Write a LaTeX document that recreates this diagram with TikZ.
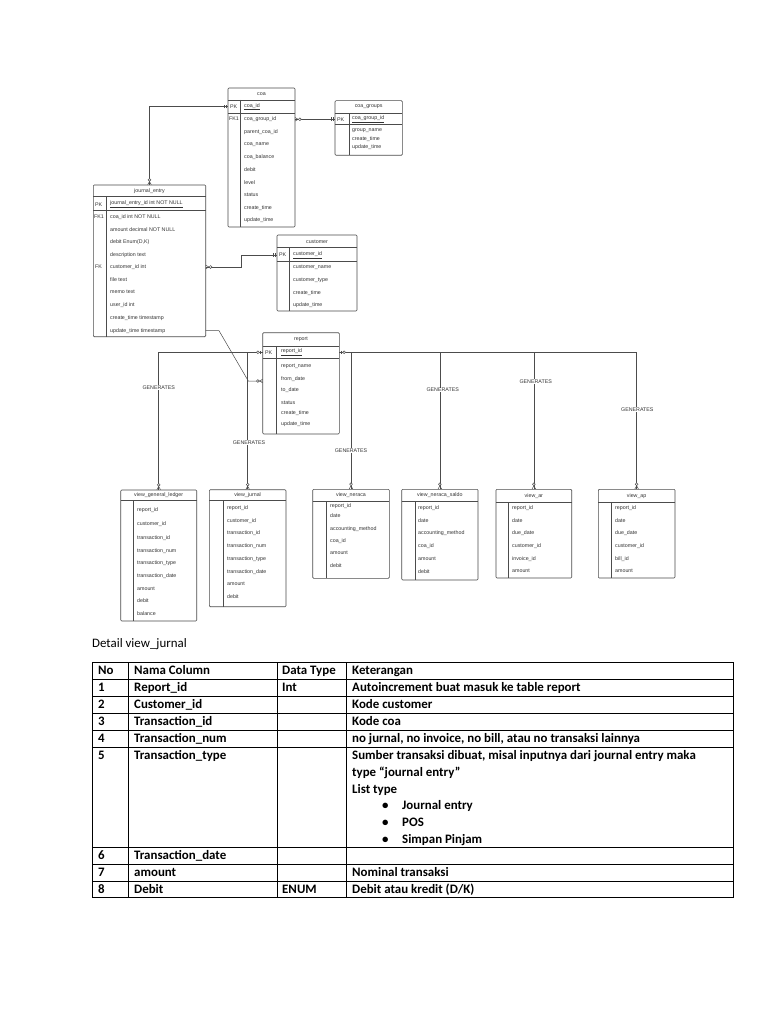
\documentclass[tikz,border=0pt]{standalone}
\usepackage{fontspec}
\setmainfont{Carlito}
\newfontfamily\erf{Liberation Sans}
\usetikzlibrary{fit}
\tikzset{
  erline/.style={draw=black!70, line width=0.5pt},
  tabbox/.style={draw=black!70, line width=0.6pt, rounded corners=1pt, inner sep=0pt},
  er/.style={font=\erf\fontsize{5.3}{6}\selectfont, inner sep=0pt, text=black!80},
  erw/.style={er, anchor=west},
  gen/.style={er, fill=white, inner sep=0.6pt},
  cell/.style={font=\bfseries\fontsize{12.9}{14}\selectfont, anchor=base west, inner sep=0pt},
  tline/.style={draw=black, line width=0.8pt},
}
\newcommand\ertab[8]{%
  \node[tabbox, fit={(#2,#3)(#4,#5)}] (#1) {};
  \node[er] at ({(#2+#4)/2},{(#3+#7)/2}) {#6};
  \draw[erline] (#2,#7) -- (#4,#7);
  \draw[erline] (#8,#7) -- (#8,#5);
}
% markers: #1 point, #2 outward angle
\newcommand\mkone[2]{\begin{scope}[shift={#1},rotate=#2]
  \draw[erline] (2.2,-1.8) -- (2.2,1.8); \draw[erline] (3.6,-1.8) -- (3.6,1.8);\end{scope}}
\newcommand\mkzmany[2]{\begin{scope}[shift={#1},rotate=#2]
  \draw[erline] (0,-1.8) -- (3.2,0) -- (0,1.8);
  \draw[erline, fill=white] (4.8,0) circle (1.4);\end{scope}}
\newcommand\mkzone[2]{\begin{scope}[shift={#1},rotate=#2]
  \draw[erline] (2.4,-1.8) -- (2.4,1.8);
  \draw[erline, fill=white] (4.8,0) circle (1.4);\end{scope}}
\begin{document}
\begin{tikzpicture}[x=1pt,y=-1pt]
\useasboundingbox[fill=white] (0,0) rectangle (768,1024);

% ---------------- coa
\ertab{coa}{228}{88}{295}{227}{coa}{100}{240.5}
\draw[erline] (228,113.3) -- (295,113.3);
\node[erw] at (230,106.7) {PK};
\node[erw] at (244,106.7) {\underline{coa\_id}};
\node[erw] at (229,119) {FK1};
\foreach \y/\t in {119/coa\_group\_id,132/parent\_coa\_id,145/coa\_name,157.5/coa\_balance,170/debit,182.5/level,195/status,208/create\_time,220.5/update\_time}
  \node[erw] at (244,\y) {\t};

% ---------------- coa_groups
\ertab{coag}{335}{100.7}{402.3}{155.3}{coa\_groups}{113.3}{349.3}
\draw[erline] (335,124.5) -- (402.3,124.5);
\node[erw] at (337,119.5) {PK};
\node[erw] at (352,119.5) {\underline{coa\_group\_id}};
\foreach \y/\t in {130.5/group\_name,138.7/create\_time,147/update\_time}
  \node[erw] at (352,\y) {\t};

% ---------------- journal_entry
\ertab{je}{93.3}{185}{205.7}{336.7}{journal\_entry}{196.7}{106}
\draw[erline] (93.3,210.7) -- (205.7,210.7);
\node[erw] at (95,204.3) {PK};
\node[erw] at (110,204.3) {\underline{journal\_entry\_id int NOT NULL}};
\node[erw] at (94,217) {FK1};
\node[erw] at (95,267) {FK};
\foreach \y/\t in {217/coa\_id int NOT NULL,229.3/amount decimal NOT NULL,242/debit Enum(D{,}K),254.7/description text,267/customer\_id int,279.7/file text,292/memo text,305/user\_id int,318/create\_time timestamp,330.7/update\_time timestamp}
  \node[erw] at (110,\y) {\t};

% ---------------- customer
\ertab{cust}{277}{235}{357}{311}{customer}{247.7}{289.3}
\draw[erline] (277,261) -- (357,261);
\node[erw] at (279,255) {PK};
\node[erw] at (293,255) {\underline{customer\_id}};
\foreach \y/\t in {267.5/customer\_name,280/customer\_type,292.7/create\_time,305/update\_time}
  \node[erw] at (293,\y) {\t};

% ---------------- report
\ertab{rep}{262.7}{332.7}{339.3}{434}{report}{346}{276.7}
\draw[erline] (262.7,358.3) -- (339.3,358.3);
\node[erw] at (265,352.3) {PK};
\node[erw] at (281,352.3) {\underline{report\_id}};
\foreach \y/\t in {366.7/report\_name,379/from\_date,390/to\_date,402.7/status,412.7/create\_time,423.7/update\_time}
  \node[erw] at (281,\y) {\t};

% ---------------- views
\ertab{vgl}{120.7}{490}{196.7}{621}{view\_general\_ledger}{500.7}{133.3}
\foreach \y/\t in {510/report\_id,524/customer\_id,537.7/transaction\_id,550.7/transaction\_num,563/transaction\_type,576/transaction\_date,588.7/amount,601/debit,614/balance}
  \node[erw] at (137,\y) {\t};
\ertab{vj}{209.3}{489.7}{286}{606.7}{view\_jurnal}{500.7}{223.3}
\foreach \y/\t in {508.3/report\_id,520.7/customer\_id,533.3/transaction\_id,546.3/transaction\_num,559/transaction\_type,571.7/transaction\_date,584.3/amount,597/debit}
  \node[erw] at (227,\y) {\t};
\ertab{vn}{312.7}{489.3}{389.3}{578.3}{view\_neraca}{501.3}{326.7}
\foreach \y/\t in {505.7/report\_id,516/date,528.7/accounting\_method,541.3/coa\_id,553.3/amount,566/debit}
  \node[erw] at (330,\y) {\t};
\ertab{vns}{401.7}{489.3}{478}{580}{view\_neraca\_saldo}{501.3}{415}
\foreach \y/\t in {508.3/report\_id,520.7/date,533.3/accounting\_method,546/coa\_id,559/amount,571.7/debit}
  \node[erw] at (418,\y) {\t};
\ertab{var}{496}{489.3}{571.7}{578}{view\_ar}{502}{508}
\foreach \y/\t in {508.3/report\_id,520.7/date,533.3/due\_date,546/customer\_id,558.7/invoice\_id,571/amount}
  \node[erw] at (512,\y) {\t};
\ertab{vap}{598.3}{489.3}{675}{578}{view\_ap}{502}{611.7}
\foreach \y/\t in {508.3/report\_id,520.7/date,533.3/due\_date,546/customer\_id,558.7/bill\_id,571/amount}
  \node[erw] at (615,\y) {\t};

% ---------------- connector anchors
\coordinate (coaPK) at (228,106.7);
\coordinate (coaFK) at (295,119.3);
\coordinate (cgPK) at (335,119.3);
\coordinate (jeCust) at (205.7,267);
\coordinate (custPK) at (277,255);
\coordinate (jeUpd) at (205.7,330.7);
\coordinate (repJE) at (262.7,381);
\coordinate (rpkW) at (262.7,352.3);
\coordinate (rpkE) at (339.3,352.3);

% ---------------- connectors
\draw[erline] (je.north) |- (coaPK);
\draw[erline] (coaFK) -- (cgPK);
\draw[erline] (jeCust) -- ++(36,0) |- (custPK);
\draw[erline] (jeUpd) -- ++(13.3,0) -- (248.3,381) -- (repJE);
\draw[erline] (rpkW) -| (vgl.north);
\draw[erline] (rpkW) -| (vj.north);
\draw[erline] (rpkE) -| (vn.north);
\draw[erline] (rpkE) -| (vns.north);
\draw[erline] (rpkE) -| (var.north);
\draw[erline] (rpkE) -| (vap.north);

% ---------------- markers
\mkone{(coaPK)}{180}
\mkzmany{(je.north)}{90}
\mkzmany{(coaFK)}{0}
\mkone{(cgPK)}{180}
\mkzmany{(jeCust)}{0}
\mkone{(custPK)}{180}
\mkzmany{(repJE)}{180}
\mkzone{(rpkW)}{180}
\mkzone{(rpkE)}{0}
\foreach \v in {vgl,vj,vn,vns,var,vap} {\mkzmany{(\v.north)}{90}}

% ---------------- GENERATES labels
\node[gen] at (158.7,387.7) {GENERATES};
\node[gen] at (249,442.3) {GENERATES};
\node[gen] at (351,450.7) {GENERATES};
\node[gen] at (442.7,390) {GENERATES};
\node[gen] at (535.7,381.7) {GENERATES};
\node[gen] at (637.3,409.3) {GENERATES};

% ---------------- detail table
\node[anchor=base west, inner sep=0pt, font=\fontsize{12.9}{14}\selectfont] (dtitle) at (92,647.5) {Detail view\_jurnal};
\draw[tline] (92.5,662) rectangle (733,897);
\foreach \y in {679,696,713,730,747,847,864,881}
  \draw[tline] (92.5,\y) -- (733,\y);
\foreach \x in {128.5,277,346}
  \draw[tline] (\x,662) -- (\x,897);
% header
\node[cell] at (98,674.5) {No};
\node[cell] at (134,674.5) {Nama Column};
\node[cell] at (282,674.5) {Data Type};
\node[cell] at (352,674.5) {Keterangan};
% rows
\foreach \y/\n/\c in {691.5/1/Report\_id,708.5/2/Customer\_id,725.5/3/Transaction\_id,742.5/4/Transaction\_num,759.5/5/Transaction\_type,859.5/6/Transaction\_date,876.5/7/amount,893/8/Debit}
  {\node[cell] at (98,\y) {\n}; \node[cell] at (134,\y) {\c};}
\node[cell] at (282,691.5) {Int};
\node[cell] at (282,893) {ENUM};
\node[cell] at (352,691.5) {Autoincrement buat masuk ke table report};
\node[cell] at (352,708.5) {Kode customer};
\node[cell] at (352,725.5) {Kode coa};
\node[cell] at (352,742.5) {no jurnal, no invoice, no bill, atau no transaksi lainnya};
\node[cell] at (352,759.5) {Sumber transaksi dibuat, misal inputnya dari journal entry maka};
\node[cell] at (352,776) {type “journal entry”};
\node[cell] at (352,793) {List type};
\foreach \y/\t in {809.5/Journal entry,826/POS,843/Simpan Pinjam}
  {\node[cell] at (382,\y) {•}; \node[cell] at (402,\y) {\t};}
\node[cell] at (352,876.5) {Nominal transaksi};
\node[cell] at (352,893) {Debit atau kredit (D/K)};
\end{tikzpicture}
\end{document}
